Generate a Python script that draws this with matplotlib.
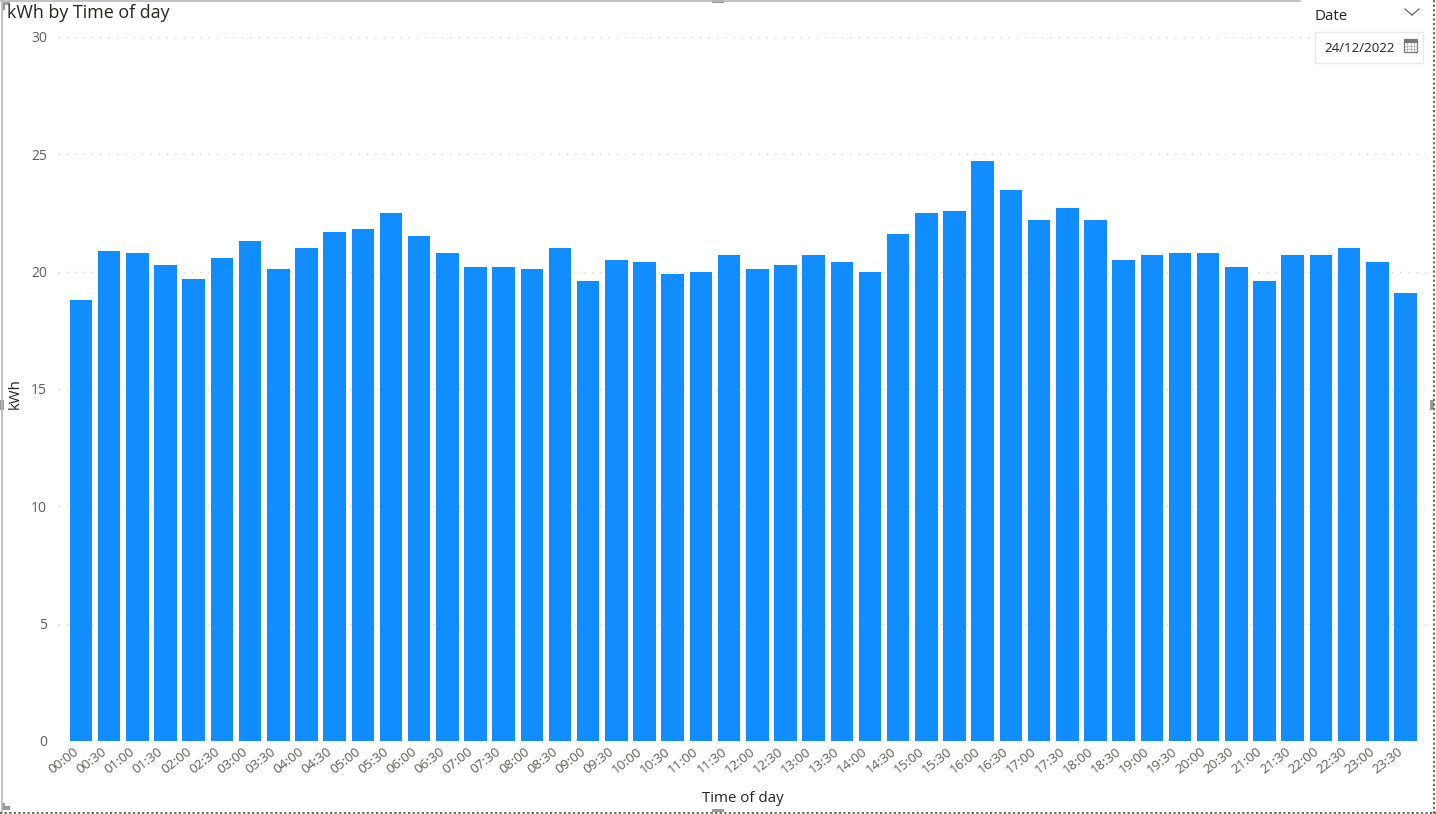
import matplotlib
matplotlib.use("Agg")
import matplotlib.pyplot as plt
from matplotlib.lines import Line2D
from matplotlib.patches import Rectangle
from matplotlib.transforms import ScaledTranslation

W, H = 1436, 814

# half hour slots
times = ["00:00", "00:30", "01:00", "01:30", "02:00", "02:30", "03:00", "03:30",
         "04:00", "04:30", "05:00", "05:30", "06:00", "06:30", "07:00", "07:30",
         "08:00", "08:30", "09:00", "09:30", "10:00", "10:30", "11:00", "11:30",
         "12:00", "12:30", "13:00", "13:30", "14:00", "14:30", "15:00", "15:30",
         "16:00", "16:30", "17:00", "17:30", "18:00", "18:30", "19:00", "19:30",
         "20:00", "20:30", "21:00", "21:30", "22:00", "22:30", "23:00", "23:30"]
kwh = [18.8, 20.9, 20.8, 20.3, 19.7, 20.6, 21.3, 20.1,
       21.0, 21.7, 21.8, 22.5, 21.5, 20.8, 20.2, 20.2,
       20.1, 21.0, 19.6, 20.5, 20.4, 19.9, 20.0, 20.7,
       20.1, 20.3, 20.7, 20.4, 20.0, 21.6, 22.5, 22.6,
       24.7, 23.5, 22.2, 22.7, 22.2, 20.5, 20.7, 20.8,
       20.8, 20.2, 19.6, 20.7, 20.7, 21.0, 20.4, 19.1]
y_ticks = [0, 5, 10, 15, 20, 25, 30]

plt.rcParams['font.family'] = ['Open Sans', 'DejaVu Sans']

fig = plt.figure(figsize=(W / 100, H / 100), dpi=100, facecolor="white")

# axes box in pixels: left 58, right 1426, top 37, bottom 741
ax = fig.add_axes([58 / W, 1 - 741 / H, (1426 - 58) / W, (741 - 37) / H])
positions = list(range(len(times)))
ax.bar(positions, kwh, width=0.8, color="#118DFF", zorder=3)
ax.set_xlim(-0.816, 47.73)
ax.set_ylim(0, 30)
ax.set_yticks(y_ticks)
ax.set_xticks(positions)
ax.set_xticklabels(times, rotation=38, ha="right", rotation_mode="anchor", fontsize=9.7, color="#605E5C")
ax.tick_params(axis="both", length=0)
ax.tick_params(axis="x", pad=3)
ax.tick_params(axis="y", pad=8, labelsize=10, labelcolor="#605E5C")
# labels sit a bit left of the bar centres in the original
shift = ScaledTranslation(-8 / 100, 0, fig.dpi_scale_trans)
for lab in ax.get_xticklabels():
    lab.set_transform(lab.get_transform() + shift)
ax.grid(axis="y", color="#D4D4D4", linestyle=(0, (1, 5)), linewidth=1, zorder=0)
for s in ax.spines.values():
    s.set_visible(False)
ax.patch.set_alpha(0)

fig.text(15 / W, 1 - 394 / H, "kWh", rotation=90, ha="center", va="center", fontsize=10.8, color="#252423")
fig.text(743 / W, 1 - 798 / H, "Time of day", ha="center", va="center", fontsize=10.8, color="#252423")
fig.text(7 / W, 1 - 13.5 / H, "kWh by Time of day", ha="left", va="center", fontsize=12.9, color="#252423")


def px_line(x0, y0, x1, y1, **kw):
    fig.add_artist(Line2D([x0 / W, x1 / W], [1 - y0 / H, 1 - y1 / H], transform=fig.transFigure, **kw))


def px_rect(x0, y0, x1, y1, **kw):
    fig.add_artist(Rectangle((x0 / W, 1 - y1 / H), (x1 - x0) / W, (y1 - y0) / H, transform=fig.transFigure, **kw))


# visual frame and resize handles
px_line(1.5, 0, 1.5, 812, color="#B8B8B8", linewidth=1.2)
px_line(0, 0.7, 1300, 0.7, color="#B8B8B8", linewidth=1.2)
dots = dict(color="#6E6E6E", linewidth=1.5, linestyle=(0, (1.1, 1.1)))
px_line(0, 812.5, W, 812.5, **dots)
px_line(1433.5, 0, 1433.5, H, **dots)
for x0, y0, x1, y1 in [(2, 2, 10, 5), (2, 2, 5, 10), (712, 0, 724, 3), (712, 809, 724, 812),
                       (2, 810, 10, 806), (2, 810, 5, 803), (0, 400, 4, 410), (1430, 400, 1434, 410)]:
    px_rect(x0, y0, x1, y1, facecolor="#9A9A9A", edgecolor="none")

# date slicer
fig.text(1315 / W, 1 - 16 / H, "Date", ha="left", va="center", fontsize=10.8, color="#252423")
px_line(1405, 9, 1412, 15, color="#666666", linewidth=0.9)
px_line(1412, 15, 1419, 9, color="#666666", linewidth=0.9)
px_rect(1314.5, 32.5, 1422.5, 62.5, facecolor="white", edgecolor="#E8E8E8", linewidth=1)
fig.text(1324.5 / W, 1 - 48 / H, "24/12/2022", ha="left", va="center", fontsize=9.6, color="#252423")
px_rect(1404, 39.5, 1417, 51.5, facecolor="white", edgecolor="#777777", linewidth=0.9)
px_rect(1404, 39.5, 1417, 43, facecolor="#777777", edgecolor="none")
for gx in [1407, 1410.5, 1414]:
    px_line(gx, 43, gx, 51, color="#BDBDBD", linewidth=0.7)
for gy in [45.5, 48.5]:
    px_line(1404.5, gy, 1416.5, gy, color="#BDBDBD", linewidth=0.7)

fig.savefig("out.png", dpi=100)
